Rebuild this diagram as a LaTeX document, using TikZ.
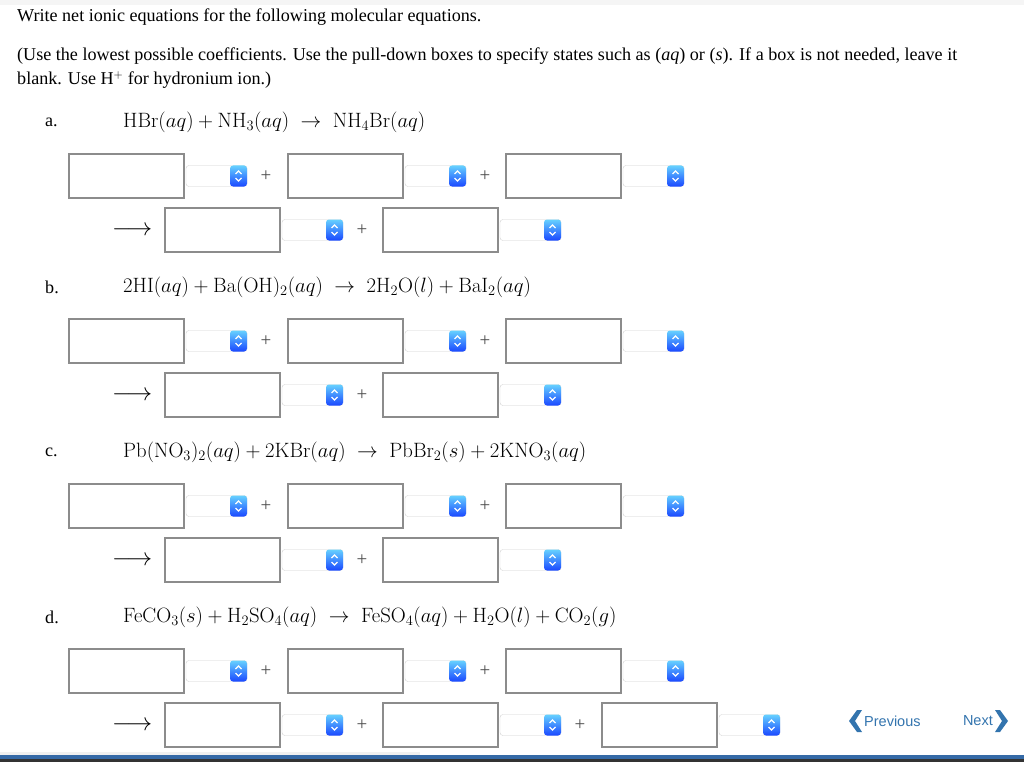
\documentclass[tikz,border=0pt]{standalone}
\usepackage[no-math]{fontspec}
\setmainfont{Liberation Serif}
\newfontfamily\uisans{Liberation Sans}
\begin{document}
\begin{tikzpicture}[x=1pt,y=-1pt,
  inbox/.style={draw=black!45,line width=1.2pt,minimum width=115pt,minimum height=44pt,inner sep=0pt},
  txt/.style={anchor=west,inner sep=0pt,font=\fontsize{18.1}{21}\selectfont},
  eqs/.style={anchor=west,inner sep=0pt,font=\fontsize{20}{23}\selectfont},
  arr/.style={anchor=west,inner sep=0pt,font=\fontsize{23}{25}\selectfont},
  pl/.style={font=\fontsize{19}{21}\selectfont,text=black!70,inner sep=0pt}]
\useasboundingbox (0,0) rectangle (1024,762);
\fill[black!4] (0,0) rectangle (1024,5);
\newcommand{\selbox}[3]{% x,y,name
  \draw[black!18,fill=white,rounded corners=3pt] (#1,#2-10.5) rectangle (#1+61,#2+10.5);
  \shade[top color=blue!30!cyan!60,bottom color=blue!80!cyan!90,rounded corners=3pt] (#1+44,#2-10.5) rectangle (#1+61,#2+10.5);
  \draw[white,line width=1.1pt] (#1+49.5,#2-2) -- (#1+52.5,#2-5) -- (#1+55.5,#2-2);
  \draw[white,line width=1.1pt] (#1+49.5,#2+2) -- (#1+52.5,#2+5) -- (#1+55.5,#2+2);
  \coordinate (#3) at (#1,#2);}
\node[txt] (t1) at (17,17) {Write net ionic equations for the following molecular equations.};
\node[txt] (t2) at (17,56) {(Use the lowest possible coefficients. Use the pull-down boxes to specify states such as (\textit{aq}) or (\textit{s}). If a box is not needed, leave it};
\node[txt] (t3) at (17,80) {blank. Use H$^{+}$ for hydronium ion.)};
\foreach \lab/\eq/\dy in {
 a./{$\mathrm{HBr}(aq)+\mathrm{NH_3}(aq)\;\rightarrow\;\mathrm{NH_4Br}(aq)$}/0,
 b./{$\mathrm{2HI}(aq)+\mathrm{Ba(OH)_2}(aq)\;\rightarrow\;\mathrm{2H_2O}(l)+\mathrm{BaI_2}(aq)$}/165,
 c./{$\mathrm{Pb(NO_3)_2}(aq)+\mathrm{2KBr}(aq)\;\rightarrow\;\mathrm{PbBr_2}(s)+\mathrm{2KNO_3}(aq)$}/330,
 d./{$\mathrm{FeCO_3}(s)+\mathrm{H_2SO_4}(aq)\;\rightarrow\;\mathrm{FeSO_4}(aq)+\mathrm{H_2O}(l)+\mathrm{CO_2}(g)$}/495}{
  \node[txt] (lab\lab) at (45,122+\dy) {\lab};
  \node[eqs] (eq\lab) at (123,122+\dy) {\eq};
  \node[inbox] (r1a\lab) at (126.5,176+\dy) {};
  \selbox{186}{176+\dy}{s1a\lab}
  \node[pl] (p1a\lab) at (266,176+\dy) {+};
  \node[inbox] (r1b\lab) at (345.5,176+\dy) {};
  \selbox{405}{176+\dy}{s1b\lab}
  \node[pl] (p1b\lab) at (485,176+\dy) {+};
  \node[inbox] (r1c\lab) at (563.5,176+\dy) {};
  \selbox{623}{176+\dy}{s1c\lab}
  \node[arr] (ar\lab) at (112,231+\dy) {$\longrightarrow$};
  \node[inbox] (r2a\lab) at (222.5,230+\dy) {};
  \selbox{282}{230+\dy}{s2a\lab}
  \node[pl] (p2a\lab) at (362,230+\dy) {+};
  \node[inbox] (r2b\lab) at (440.5,230+\dy) {};
  \selbox{500}{230+\dy}{s2b\lab}
}
\node[pl] (p2c) at (580,725) {+};
\node[inbox] (r2c) at (659.5,725) {};
\selbox{719}{725}{s2c}
\fill[cyan!60!blue!80!black] (849,721) -- (857,710) -- (862,710) -- (855,721) -- (862,732) -- (857,732) -- cycle;
\node[anchor=west,inner sep=0pt,font=\uisans\fontsize{14.5}{16}\selectfont,text=cyan!60!blue!80!black] (prev) at (864,721) {Previous};
\node[anchor=east,inner sep=0pt,font=\uisans\fontsize{14.5}{16}\selectfont,text=cyan!60!blue!80!black] (next) at (993,721) {Next};
\fill[cyan!60!blue!80!black] (1008,721) -- (1000,710) -- (995,710) -- (1002,721) -- (995,732) -- (1000,732) -- cycle;
\fill[black!6] (0,752) rectangle (420,755);
\fill[cyan!50!blue!80!black] (0,755) rectangle (1024,759);
\fill[black!80] (0,759) rectangle (1024,762);
\end{tikzpicture}
\end{document}
